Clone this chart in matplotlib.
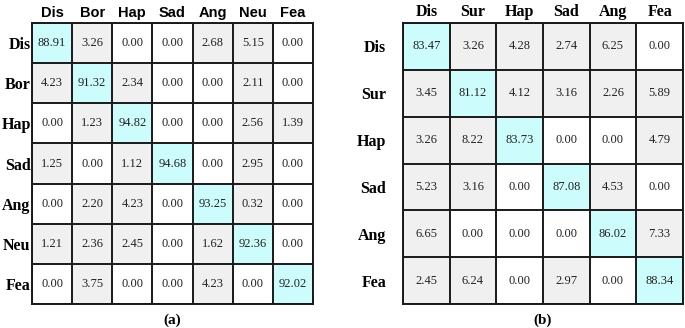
import numpy as np
import matplotlib
matplotlib.use("Agg")
import matplotlib.pyplot as plt
from matplotlib.colors import ListedColormap

# --- data ---
labels_a = ["Dis", "Bor", "Hap", "Sad", "Ang", "Neu", "Fea"]
cm_a = np.array([
    [88.91, 3.26, 0.00, 0.00, 2.68, 5.15, 0.00],
    [4.23, 91.32, 2.34, 0.00, 0.00, 2.11, 0.00],
    [0.00, 1.23, 94.82, 0.00, 0.00, 2.56, 1.39],
    [1.25, 0.00, 1.12, 94.68, 0.00, 2.95, 0.00],
    [0.00, 2.20, 4.23, 0.00, 93.25, 0.32, 0.00],
    [1.21, 2.36, 2.45, 0.00, 1.62, 92.36, 0.00],
    [0.00, 3.75, 0.00, 0.00, 4.23, 0.00, 92.02],
])

labels_b = ["Dis", "Sur", "Hap", "Sad", "Ang", "Fea"]
cm_b = np.array([
    [83.47, 3.26, 4.28, 2.74, 6.25, 0.00],
    [3.45, 81.12, 4.12, 3.16, 2.26, 5.89],
    [3.26, 8.22, 83.73, 0.00, 0.00, 4.79],
    [5.23, 3.16, 0.00, 87.08, 4.53, 0.00],
    [6.65, 0.00, 0.00, 0.00, 86.02, 7.33],
    [2.45, 6.24, 0.00, 2.97, 0.00, 88.34],
])

SERIF = "Liberation Serif"
SANS = "Liberation Sans"
cmap = ListedColormap(["#ffffff", "#f0f0f0", "#ccfcfc"])


def draw_cm(ax, cm, labels, col_font, caption):
    n = len(labels)
    # 0 = zero, 1 = off-diagonal nonzero, 2 = diagonal
    codes = (cm > 0).astype(int)
    np.fill_diagonal(codes, 2)
    ax.imshow(codes, cmap=cmap, vmin=0, vmax=2, aspect="auto",
              interpolation="nearest")
    for i in range(n):
        for j in range(n):
            ax.text(j, i, f"{cm[i, j]:.2f}", ha="center", va="center",
                    fontsize=9, family=SERIF, color="#222222")
    for k in range(n + 1):
        ax.axhline(k - 0.5, color="#1a1a1a", lw=1.4)
        ax.axvline(k - 0.5, color="#1a1a1a", lw=1.4)
    ax.set_xticks(range(n))
    ax.set_yticks(range(n))
    ax.xaxis.tick_top()
    ax.set_xticklabels(labels, fontsize=col_font[1], fontweight="bold",
                       family=col_font[0])
    ax.set_yticklabels(labels, fontsize=11.5, fontweight="bold", family=SERIF)
    ax.tick_params(length=0, pad=2)
    for s in ax.spines.values():
        s.set_linewidth(1.4)
        s.set_color("#1a1a1a")
    ax.set_xlim(-0.5, n - 0.5)
    ax.set_ylim(n - 0.5, -0.5)
    ax.text(0.5, -0.035, caption, transform=ax.transAxes, ha="center",
            va="top", fontsize=11, fontweight="bold", family=SERIF)


fig = plt.figure(figsize=(6.85, 3.28), dpi=100)
W, H = 685, 328
ax_a = fig.add_axes([32 / W, (H - 304) / H, 281 / W, 281 / H])
ax_b = fig.add_axes([403 / W, (H - 304) / H, 280 / W, 281 / H])

draw_cm(ax_a, cm_a, labels_a, (SANS, 10.5), "(a)")
draw_cm(ax_b, cm_b, labels_b, (SERIF, 11.5), "(b)")
ax_a.tick_params(axis="y", pad=1)
ax_b.tick_params(axis="y", pad=12)

fig.savefig("out.png", dpi=100)
